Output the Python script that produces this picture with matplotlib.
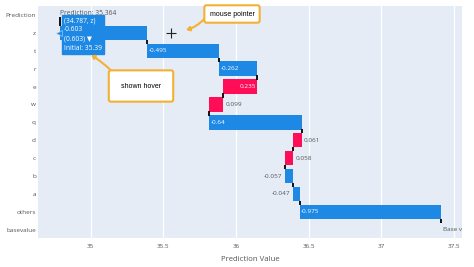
import matplotlib
matplotlib.use("Agg")
import matplotlib.pyplot as plt
import numpy as np

plt.rcParams['font.family'] = ['Open Sans', 'DejaVu Sans']

# waterfall data (bottom to top)
features = ['others', 'a', 'b', 'c', 'd', 'q', 'w', 'e', 'r', 't', 'z']
values = [-0.975, -0.047, -0.057, 0.058, 0.061, -0.64, 0.099, 0.235, -0.262, -0.495, -0.603]
base_value = 37.413
pred_label = "Prediction: 35.364"
xticks = [35, 35.5, 36, 36.5, 37, 37.5]
cursor = (35.553, 'z')

blue = '#1E88E5'
red = '#FF0D57'
orange = '#F2B134'

# row order top to bottom
rows = ['Prediction'] + features[::-1] + ['basevalue']
ypos = {r: i for i, r in enumerate(rows)}

starts = []
ends = []
cur = base_value
for v in values:
    starts.append(cur)
    cur = cur + v
    ends.append(cur)

f = plt.figure(figsize=(4.74, 2.67), dpi=100)
ax = f.add_axes([0.0802, 0.1086, 0.8945, 0.869])
ax.set_facecolor('#E5ECF6')
for s in ax.spines.values():
    s.set_visible(False)

ax.set_xlim(34.638, 37.555)
ax.set_ylim(12.46, -0.5)
ax.set_xticks(xticks)
ax.set_xticklabels([("%g" % t) for t in xticks])
ax.set_yticks(range(len(rows)))
ax.set_yticklabels(rows)
ax.tick_params(length=0, labelsize=4.6, colors='#555555')
ax.tick_params(axis='y', pad=1.5)
ax.tick_params(axis='x', pad=4)
ax.grid(axis='x', color='white', lw=0.9)
ax.set_axisbelow(True)
ax.set_xlabel("Prediction Value", fontsize=5.6, color='#555555', labelpad=5)

# bars
for name, v, s0, e0 in zip(features, values, starts, ends):
    y = ypos[name]
    c = red if v > 0 else blue
    ax.barh(y, e0 - s0, left=s0, height=0.8, color=c, zorder=2)
    lab = "%g" % v
    inside = abs(v) > 0.2
    if v < 0:
        if inside:
            ax.text(e0 + 0.01, y, lab, ha='left', va='center', fontsize=4.6, color='white', zorder=4)
        else:
            ax.text(e0 - 0.015, y, lab, ha='right', va='center', fontsize=4.6, color='#555555', zorder=4)
    else:
        if inside:
            ax.text(e0 - 0.01, y, lab, ha='right', va='center', fontsize=4.6, color='white', zorder=4)
        else:
            ax.text(e0 + 0.015, y, lab, ha='left', va='center', fontsize=4.6, color='#555555', zorder=4)

# connectors
ax.vlines(base_value, ypos['others'] + 0.38, ypos['basevalue'] - 0.38, color='black', lw=1.3, zorder=3)
for i in range(len(features) - 1):
    y0 = ypos[features[i]]
    y1 = ypos[features[i + 1]]
    ax.vlines(ends[i], y1 + 0.38, y0 - 0.38, color='black', lw=1.3, zorder=3)
ax.vlines(ends[-1], ypos['Prediction'] + 0.1, ypos['z'] - 0.38, color='black', lw=1.3, zorder=3)

ax.text(base_value + 0.01, ypos['basevalue'], "Base value", ha='left', va='center',
        fontsize=4.6, color='#555555', clip_on=True)
ax.text(ends[-1] + 0.005, ypos['Prediction'] - 0.1, pred_label, ha='left', va='center',
        fontsize=4.8, color='#555555')

# hover box for z
zi = features.index('z')
hover = "(%.3f, z)\n%g\n(%g) \u25BC\nInitial: %.2f" % (ends[zi], values[zi], abs(values[zi]), starts[zi])
ax.text(ends[zi] + 0.03, ypos['Prediction'] + 0.12, hover, ha='left', va='top', fontsize=4.8,
        color='white', linespacing=1.45, zorder=6,
        bbox=dict(boxstyle='square,pad=0.3', fc=blue, ec=blue))
ax.plot(ends[zi] - 0.005, ypos['z'], marker='<', ms=4, color=blue, mec='#9cc8f0', mew=0.5, zorder=6)

# mouse cursor
ax.plot(cursor[0], ypos[cursor[1]], marker='+', ms=7, mew=0.8, color='#222222', zorder=6)

# callouts
ax.annotate("mouse pointer", xy=(186 / 474, 1 - 30 / 267), xycoords='figure fraction',
            xytext=(232 / 474, 1 - 14 / 267), textcoords='figure fraction',
            ha='center', va='center', fontsize=5, family=['Liberation Sans', 'DejaVu Sans'],
            bbox=dict(boxstyle='round,pad=0.75,rounding_size=0.3', fc='white', ec=orange, lw=1.5),
            arrowprops=dict(arrowstyle='-|>,head_width=0.25,head_length=0.4', color=orange, lw=1.5,
                            shrinkA=0, shrinkB=0, relpos=(0, 0.85),
                            connectionstyle='arc3,rad=-0.2'), zorder=7)
ax.annotate("shown hover", xy=(91 / 474, 1 - 55 / 267), xycoords='figure fraction',
            xytext=(141 / 474, 1 - 86 / 267), textcoords='figure fraction',
            ha='center', va='center', fontsize=5, family=['Liberation Sans', 'DejaVu Sans'],
            bbox=dict(boxstyle='round,pad=1.75,rounding_size=0.3', fc='white', ec=orange, lw=1.5),
            arrowprops=dict(arrowstyle='-|>,head_width=0.25,head_length=0.4', color=orange, lw=1.5,
                            shrinkA=0, shrinkB=0, relpos=(0.02, 0.95),
                            connectionstyle='arc3,rad=0.1'), zorder=7)

f.savefig("out.png", dpi=100)
